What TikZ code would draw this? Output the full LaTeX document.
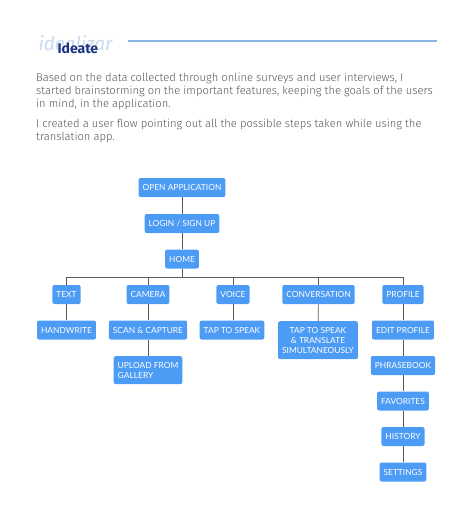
\documentclass[tikz,border=0pt]{standalone}
\usepackage{fontspec}
\setmainfont{Fira Sans}
\newfontfamily\boxfont{Lato}
\newfontfamily\bodyfont{Fira Sans Light}[UprightFont=*]
\definecolor{flowblue}{RGB}{76, 155, 245}
\definecolor{ruleblue}{RGB}{139, 181, 229}
\definecolor{markblue}{RGB}{200, 218, 242}
\definecolor{titleblue}{RGB}{28, 52, 128}
\definecolor{bodygray}{RGB}{85, 85, 85}
\definecolor{linkgray}{RGB}{90, 90, 90}

\begin{document}
\begin{tikzpicture}[x=1pt, y=-1pt,
  stepbox/.style={rectangle, rounded corners=2pt, fill=flowblue, text=white,
    font=\boxfont\fontsize{8.4}{10}\selectfont, inner xsep=4pt, inner ysep=0pt,
    minimum height=19pt},
  link/.style={draw=linkgray, line width=0.7pt}]
\useasboundingbox (0,0) rectangle (474,525);

% Heading
\node[anchor=base west, text=markblue, font=\fontsize{19}{19}\selectfont\itshape] (mark) at (35,50) {idealizar};
\node[anchor=base west, text=titleblue, font=\fontsize{14}{14}\selectfont\bfseries] (title) at (54,53) {Ideate};
\draw[ruleblue, line width=1.5pt] (128,41) -- (437,41);

% Intro text
\node[anchor=north west, align=left, text=bodygray, inner sep=0pt,
  font=\bodyfont\fontsize{11.2}{12.8}\selectfont] (intro) at (36,73)
  {Based on the data collected through online surveys and user interviews, I\\
   started brainstorming on the important features, keeping the goals of the users\\
   in mind, in the application.};
\node[anchor=north west, align=left, text=bodygray, inner sep=0pt,
  font=\bodyfont\fontsize{11.2}{12.8}\selectfont] (flow) at (36,119)
  {I created a user flow pointing out all the possible steps taken while using the\\
   translation app.};

% Main path
\node[stepbox] (open) at (182,187.5) {OPEN APPLICATION};
\node[stepbox] (login) at (182,223.5) {LOGIN / SIGN UP};
\node[stepbox] (home) at (182,259) {HOME};

% Features
\node[stepbox] (text) at (66.5,294.5) {TEXT};
\node[stepbox] (camera) at (148,294.5) {CAMERA};
\node[stepbox] (voice) at (233,294.5) {VOICE};
\node[stepbox] (conv) at (318.5,294.5) {CONVERSATION};
\node[stepbox] (profile) at (403,294.5) {PROFILE};

% Sub steps
\node[stepbox] (hand) at (66.5,330) {HANDWRITE};
\node[stepbox] (scan) at (148,330) {SCAN \& CAPTURE};
\node[stepbox, anchor=north, align=left, minimum height=28pt] (upload) at (148,356) {UPLOAD FROM\\GALLERY};
\node[stepbox] (tap) at (232,330) {TAP TO SPEAK};
\node[stepbox, anchor=north, align=center, minimum height=38pt] (simul) at (318,321) {TAP TO SPEAK\\\& TRANSLATE\\SIMULTANEOUSLY};
\node[stepbox] (edit) at (403,330) {EDIT PROFILE};
\node[stepbox] (phrase) at (403,365.5) {PHRASEBOOK};
\node[stepbox] (fav) at (403,401) {FAVORITES};
\node[stepbox] (hist) at (403,436.5) {HISTORY};
\node[stepbox] (set) at (403,472) {SETTINGS};

% Connectors
\coordinate (busl) at (66.5,277);
\coordinate (busr) at (403,277);
\draw[link] (open) -- (login);
\draw[link] (login) -- (home);
\draw[link] (home) -- (home |- busl);
\draw[link] (busl) -- (busr);
\foreach \n in {text,camera,voice,conv,profile}
  \draw[link] (\n |- busl) -- (\n);
\draw[link] (text) -- (hand);
\draw[link] (camera) -- (scan);
\draw[link] (scan) -- (upload);
\draw[link] (voice.south) -- (voice.south |- tap.north);
\draw[link] (conv) -- (simul);
\draw[link] (profile) -- (edit);
\draw[link] (edit) -- (phrase);
\draw[link] (phrase) -- (fav);
\draw[link] (fav) -- (hist);
\draw[link] (hist) -- (set);
\end{tikzpicture}
\end{document}
